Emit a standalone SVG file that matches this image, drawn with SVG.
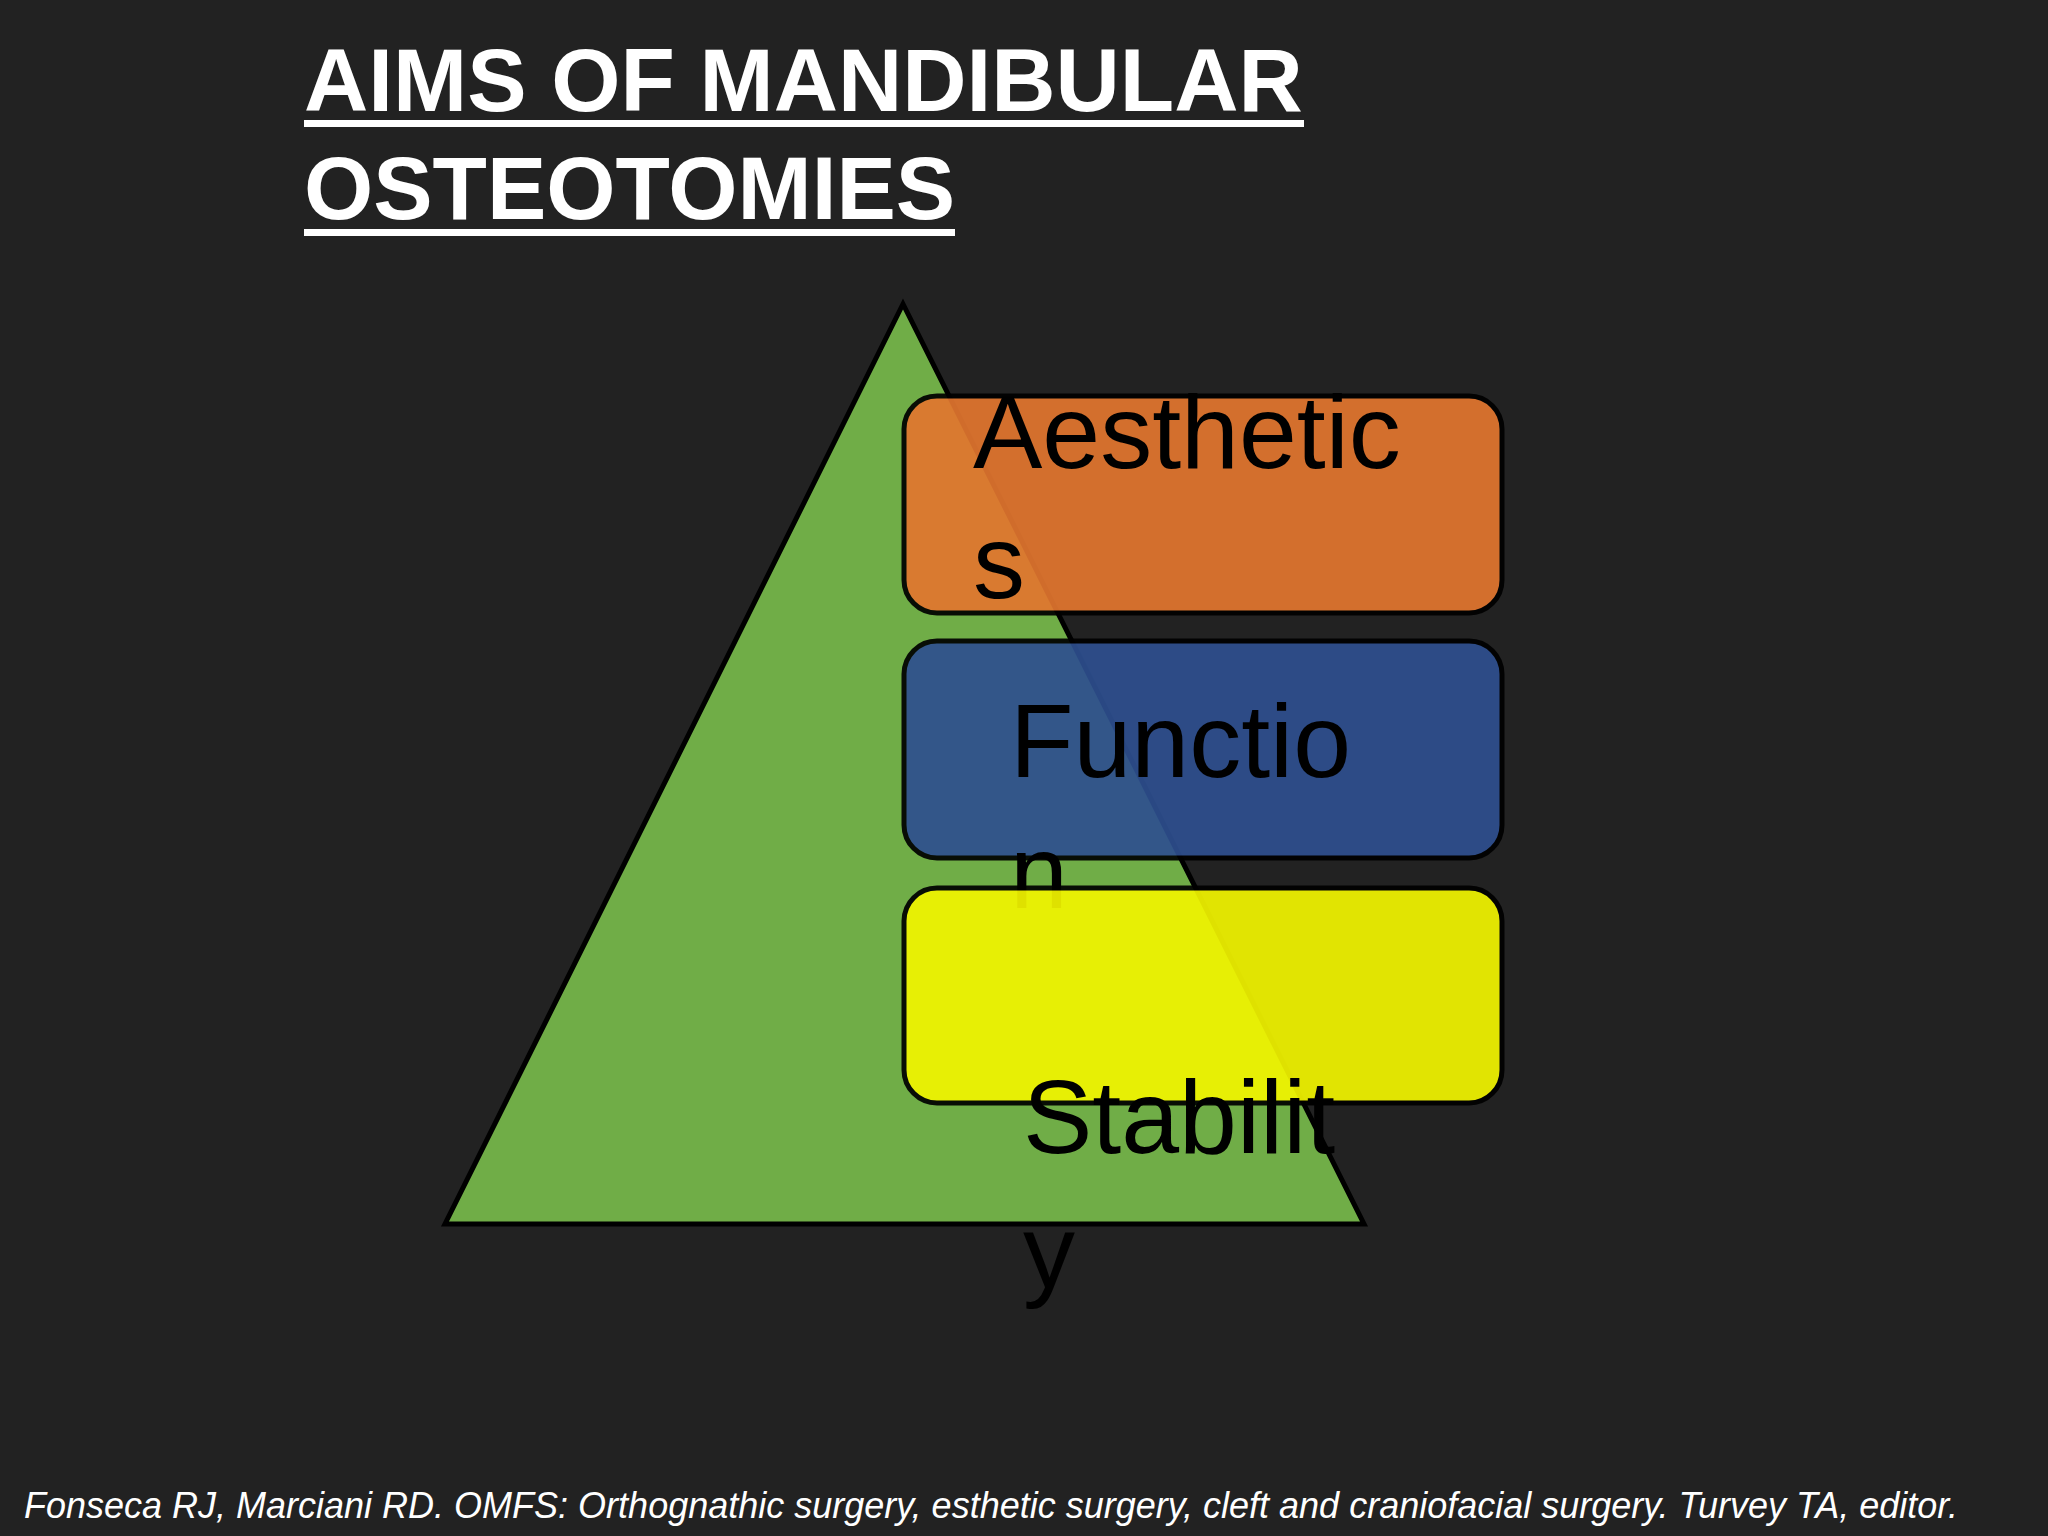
<svg xmlns="http://www.w3.org/2000/svg" width="2048" height="1536" viewBox="0 0 2048 1536">
<style>
.t{font-family:"Liberation Sans",Arial,sans-serif;font-weight:bold;font-size:89px;fill:#fff}
.b{font-family:"Liberation Sans",Arial,sans-serif;font-size:104px;fill:#000}
.box{stroke:#000;stroke-width:5;opacity:0.92}
</style>
<rect width="2048" height="1536" fill="#222222"/>
<g id="title">
<text class="t" x="304" y="111">AIMS OF MANDIBULAR</text>
<rect x="304" y="120" width="1000" height="7" fill="#fff"/>
<text class="t" x="304" y="219">OSTEOTOMIES</text>
<rect x="304" y="229" width="651" height="7" fill="#fff"/>
</g>
<g id="pyramid"><polygon points="903,304 445,1224 1364,1224" fill="#70ad47" stroke="#000" stroke-width="5"/></g>
<g id="aesthetics"><rect class="box" x="904" y="396" width="598" height="217" rx="33" fill="#e2762f"/>
<text class="b" x="973" y="468">Aesthetic</text><text class="b" x="973" y="598">s</text></g>
<g id="function"><rect class="box" x="904" y="641" width="598" height="217" rx="33" fill="#2e4f8f"/>
<text class="b" x="1010" y="777">Functio</text><text class="b" x="1010" y="908">n</text></g>
<g id="stability"><rect class="box" x="904" y="888" width="598" height="215" rx="33" fill="#f2f500"/>
<text class="b" x="1023" y="1153">Stabilit</text><text class="b" x="1023" y="1287">y</text></g>
<g id="connectors"/>
<text x="24" y="1518" font-family="Liberation Sans,Arial,sans-serif" font-style="italic" font-size="36" fill="#fff">Fonseca RJ, Marciani RD. OMFS: Orthognathic surgery, esthetic surgery, cleft and craniofacial surgery. Turvey TA, editor.</text>
</svg>
